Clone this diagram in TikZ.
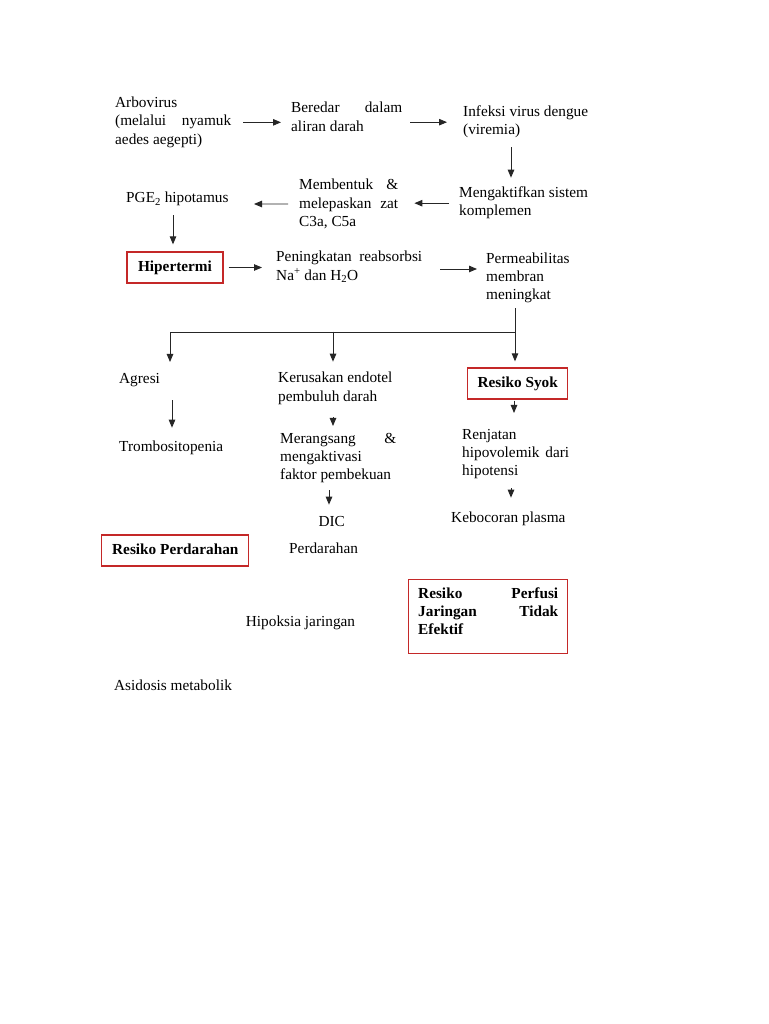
\documentclass[tikz,border=0pt]{standalone}
\usepackage{fontspec}
\setmainfont{Liberation Serif}
\usetikzlibrary{arrows.meta}
\definecolor{boxred}{RGB}{196,40,40}
\newcommand\ml[1]{\begin{tabular}[t]{@{}l@{}}#1\end{tabular}}
\newcommand\js[2]{\makebox[#1pt][s]{#2}}
\begin{document}
\begin{tikzpicture}[x=1pt,y=-1pt,
  txt/.style={inner sep=0pt, anchor=base west, font=\fontsize{15.3}{18.3}\selectfont},
  rbox/.style={draw=boxred, line width=1.3pt, inner sep=0pt, font=\fontsize{15.3}{18.3}\selectfont\bfseries, text height=12.8pt, text depth=5.5pt},
  arr/.style={draw=black!85, line width=0.9pt, -{Triangle[length=8pt,width=6.5pt]}}]
\path[use as bounding box, fill=white] (0,0) rectangle (768,1024);

\node[txt] (arbo) at (115,107.7) {\ml{Arbovirus\\\js{116}{(melalui nyamuk}\\aedes aegepti)}};
\node[txt] (beredar) at (291,113) {\ml{\js{111}{Beredar dalam}\\aliran darah}};
\node[txt] (infeksi) at (463,116.7) {\ml{Infeksi virus dengue\\(viremia)}};
\node[txt] (aktif) at (459,197.7) {\ml{Mengaktifkan sistem\\komplemen}};
\node[txt] (bentuk) at (299,190) {\ml{\js{99}{Membentuk \&}\\\js{99}{melepaskan zat}\\C3a, C5a}};
\node[txt] (pge) at (126,203) {\ml{PGE\textsubscript{2} hipotamus}};
\node[rbox, minimum width=96pt, minimum height=31pt] (hiper) at (175,267.5) {Hipertermi};
\node[txt] (pening) at (276,261.7) {\ml{\js{146}{Peningkatan reabsorbsi}\\Na\textsuperscript{+} dan H\textsubscript{2}O}};
\node[txt] (perm) at (486,263) {\ml{Permeabilitas\\membran\\meningkat}};
\node[txt] (agresi) at (119,383) {\ml{Agresi}};
\node[txt] (tromb) at (119,451.7) {\ml{Trombositopenia}};
\node[txt] (kerus) at (278,382.7) {\ml{Kerusakan endotel\\pembuluh darah}};
\node[txt] (meran) at (280,443) {\ml{\js{116}{Merangsang \&}\\mengaktivasi\\faktor pembekuan}};
\node[txt, anchor=base] (dic) at (331.7,526.7) {\ml{DIC}};
\node[txt] (perdar) at (289,553) {\ml{Perdarahan}};
\node[rbox, minimum width=100pt, minimum height=31pt] (syok) at (517.7,383.5) {Resiko Syok};
\node[txt] (renj) at (462,439) {\ml{Renjatan\\\js{107}{hipovolemik dari}\\hipotensi}};
\node[txt] (keboc) at (451,522.7) {\ml{Kebocoran plasma}};
\node[rbox, minimum width=147pt, minimum height=31pt] (rperd) at (175.3,550.5) {Resiko Perdarahan};
\node[rbox, minimum width=159pt, minimum height=74pt, anchor=north west] (perfusi) at (408,579) {};
\node[txt, font=\fontsize{15.3}{18.3}\selectfont\bfseries] (perftext) at (418,598) {\ml{\js{140}{Resiko Perfusi}\\\js{140}{Jaringan Tidak}\\Efektif}};
\node[txt] (hipoksia) at (245.7,626.7) {\ml{Hipoksia jaringan}};
\node[txt] (asidosis) at (114,690) {\ml{Asidosis metabolik}};

\draw[arr, shorten <=12pt, shorten >=10pt] (arbo.east) -- (beredar.west |- arbo.east);
\draw[arr, shorten <=8pt, shorten >=16pt] (infeksi.west -| beredar.east) -- (infeksi.west);
\draw[arr] ([xshift=48pt,yshift=-6.5pt]infeksi.south west) -- ([xshift=52pt,yshift=7pt]aktif.north west);
\draw[arr, shorten <=10pt, shorten >=16pt] (aktif.west) -- (bentuk.east |- aktif.west);
\draw[arr] ([xshift=-11pt,yshift=0.65pt]bentuk.west) -- ([xshift=128pt,yshift=-1pt]pge.base west);
\draw[arr] ([xshift=47pt,yshift=-6.5pt]pge.south west) -- ([xshift=-2pt,yshift=7pt]hiper.north);
\draw[arr, shorten <=5pt, shorten >=14pt] (hiper.east) -- (pening.west |- hiper.east);
\draw[arr] ([xshift=18pt,yshift=-1.8pt]pening.east) -- ([xshift=-9pt,yshift=8.65pt]perm.west);
\draw[arr] ([xshift=29pt,yshift=-3pt]perm.south west) -- ([xshift=-2.7pt,yshift=6pt]syok.north);
\draw[arr] ([xshift=29pt,yshift=-27pt]perm.south west) -| ([xshift=51pt,yshift=8pt]agresi.north west);
\draw[arr] ([xshift=55pt,yshift=38pt]kerus.north west) -- ([xshift=55pt,yshift=8pt]kerus.north west);
\draw[arr] ([xshift=53pt,yshift=-11.5pt]agresi.south west) -- ([xshift=53pt,yshift=11pt]tromb.north west);
\draw[arr] ([xshift=55pt,yshift=-10.5pt]kerus.south west) -- ([xshift=53pt,yshift=4pt]meran.north west);
\draw[arr] ([xshift=49pt,yshift=-5pt]meran.south west) -- ([xshift=-2.7pt,yshift=9pt]dic.north);
\draw[arr] ([xshift=-3.7pt,yshift=-1pt]syok.south) -- ([xshift=52pt,yshift=13pt]renj.north west);
\draw[arr] ([xshift=49pt,yshift=-7pt]renj.south west) -- ([xshift=60pt,yshift=12pt]keboc.north west);
\end{tikzpicture}
\end{document}
